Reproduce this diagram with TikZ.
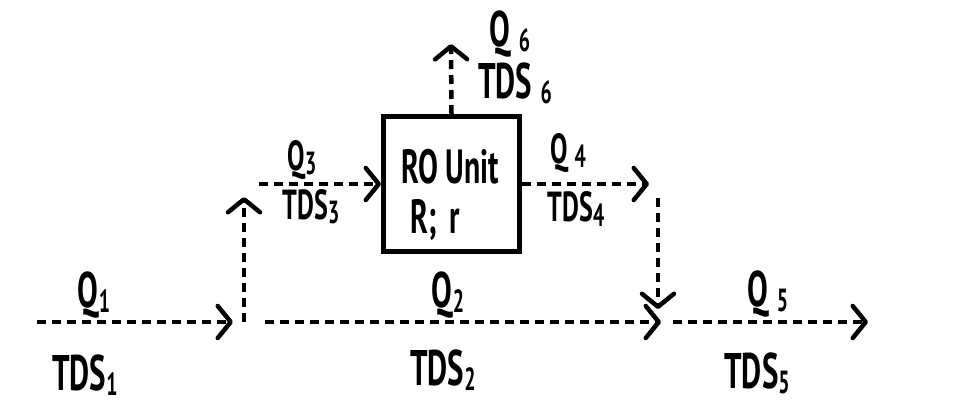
\documentclass[tikz,border=0pt]{standalone}
\usepackage{fontspec}
\setmainfont[FakeStretch=0.62]{PT Sans}
\usepackage{tikz}
\usetikzlibrary{arrows.meta}

\newcommand{\sbs}[1]{\raisebox{-.2ex}{\fontsize{32}{32}\selectfont #1}}

\tikzset{
	flow/.style={draw=black, line width=4.5pt, dash pattern=on 9pt off 6pt, -{Straight Barb[length=13pt, width=32pt, line width=4.5pt, round]}},
	unit/.style={draw=black, line width=5pt, minimum width=136pt, minimum height=135pt, inner sep=0pt},
	unitlabel/.style={inner sep=0pt, font=\fontsize{48}{48}\selectfont\bfseries},
	biglabel/.style={inner sep=0pt, font=\fontsize{50}{50}\selectfont\bfseries},
	midlabel/.style={inner sep=0pt, font=\fontsize{42}{42}\selectfont\bfseries}
}

\begin{document}
\begin{tikzpicture}[x=1pt, y=-1pt]
	\useasboundingbox (0,0) rectangle (966,410);

	% Unit and junction points
	\node [unit] (ro) at (451.5,184) {};
	\coordinate (feedin) at (37,322);
	\coordinate (feedend) at (233,322);
	\coordinate (splitlow) at (244,322);
	\coordinate (splitup) at (244,197);
	\coordinate (brinein) at (259,184);
	\coordinate (bypassin) at (265,322);
	\coordinate (mixleft) at (661,322);
	\coordinate (permend) at (649,184);
	\coordinate (dropin) at (658,198);
	\coordinate (dropend) at (658,309);
	\coordinate (mixright) at (673,322);
	\coordinate (outend) at (868,322);
	\coordinate (topend) at (451,44);

	% Labels
	\node [unitlabel] (rotext) at (450,167) {RO Unit};
	\node [unitlabel] (rrtext) at (435,220) {R;\hspace{12pt}r};
	\node [biglabel] (q1) at (94,295) {Q\sbs{1}};
	\node [biglabel] (tds1) at (85,375) {TDS\sbs{1}};
	\node [biglabel] (q2) at (448,295) {Q\sbs{2}};
	\node [biglabel] (tds2) at (443,370) {TDS\sbs{2}};
	\node [midlabel] (q3) at (302,160) {Q\sbs{3}};
	\node [midlabel] (tds3) at (311,207) {TDS\sbs{3}};
	\node [midlabel] (q4) at (568,153) {Q\,\sbs{4}};
	\node [midlabel] (tds4) at (576,209) {TDS\sbs{4}};
	\node [biglabel] (q5) at (768,294) {Q\,\sbs{5}};
	\node [biglabel] (tds5) at (757,373) {TDS\sbs{5}};
	\node [biglabel] (q6) at (510,34) {Q\,\sbs{6}};
	\node [biglabel] (tds6) at (515,83) {TDS\,\sbs{6}};

	% Paths
	\draw [flow] (feedin) -- (feedend);
	\draw [flow] (splitlow) -- (splitup);
	\draw [flow] (brinein) -- (ro.west);
	\draw [flow] (bypassin) -- (mixleft);
	\draw [flow] (ro.east) -- (permend);
	\draw [flow] (dropin) -- (dropend);
	\draw [flow] (mixright) -- (outend);
	\draw [flow] (ro.north) -- (topend);
\end{tikzpicture}
\end{document}
